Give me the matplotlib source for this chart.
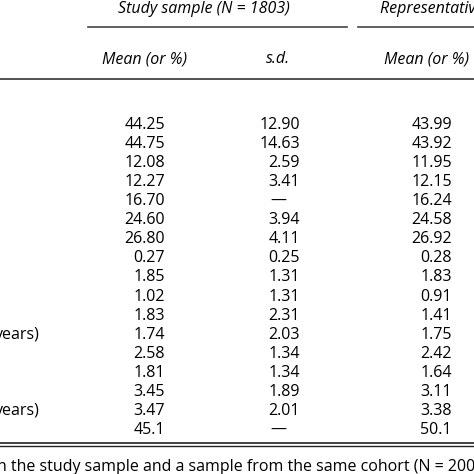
import matplotlib.pyplot as plt

plt.rcParams['font.family'] = ['Open Sans', 'DejaVu Sans']

mean1 = ['44.25', '44.75', '12.08', '12.27', '16.70', '24.60', '26.80', '0.27', '1.85',
         '1.02', '1.83', '1.74', '2.58', '1.81', '3.45', '3.47', '45.1']
sd1 = ['12.90', '14.63', '2.59', '3.41', '—', '3.94', '4.11', '0.25', '1.31',
       '1.31', '2.31', '2.03', '1.34', '1.34', '1.89', '2.01', '—']
mean2 = ['43.99', '43.92', '11.95', '12.15', '16.24', '24.58', '26.92', '0.28', '1.83',
         '0.91', '1.41', '1.75', '2.42', '1.64', '3.11', '3.38', '50.1']
labels = [''] * 17
labels[11] = 'years)'
labels[15] = 'years)'

fig = plt.figure(figsize=(4.74, 4.74), dpi=100)
ax = fig.add_axes([0, 0, 1, 1])
ax.set_xlim(0, 474)
ax.set_ylim(474, 0)
ax.axis('off')

fs = 11.5
ax.text(204, 9, 'Study sample (N = 1803)', ha='center', va='center', fontsize=fs, style='italic')
ax.text(380, 9, 'Representative sample', ha='left', va='center', fontsize=fs, style='italic')
ax.plot([88, 347], [27, 27], color='#444', lw=1.2)
ax.plot([358, 480], [27, 27], color='#444', lw=1.2)
ax.text(145, 59, 'Mean (or %)', ha='center', va='center', fontsize=fs, style='italic')
ax.text(278, 59, 's.d.', ha='center', va='center', fontsize=fs, style='italic')
ax.text(384, 59, 'Mean (or %)', ha='left', va='center', fontsize=fs, style='italic')
ax.plot([0, 474], [79, 79], color='#333', lw=1.2)

y0, dy = 125, 19.06
for i in range(17):
    y = y0 + i * dy
    if labels[i]:
        ax.text(-6, y, labels[i], ha='left', va='center', fontsize=fs)
    ax.text(165, y, mean1[i], ha='right', va='center', fontsize=fs)
    if sd1[i] == '—':
        ax.text(278, y, sd1[i], ha='center', va='center', fontsize=fs)
    else:
        ax.text(300, y, sd1[i], ha='right', va='center', fontsize=fs)
    ax.text(452, y, mean2[i], ha='right', va='center', fontsize=fs)

ax.plot([0, 474], [443, 443], color='#222', lw=1.2)
ax.plot([0, 474], [446, 446], color='#222', lw=1.0)
ax.text(-3, 467, 'n the study sample and a sample from the same cohort (N = 2000)',
        ha='left', va='center', fontsize=fs)

fig.savefig('out.png', dpi=100)
